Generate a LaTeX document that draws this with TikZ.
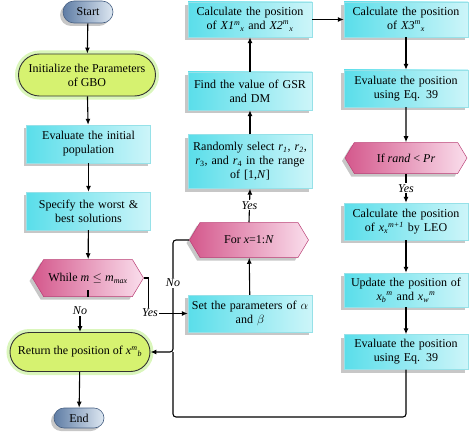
\documentclass[tikz,border=0pt]{standalone}
\usepackage{fontspec}
\usepackage{amsmath}
\setmainfont{Liberation Serif}
\usetikzlibrary{arrows.meta,shapes.symbols,shapes.misc,shadows}
\definecolor{cyL}{RGB}{90,222,234}
\definecolor{cyR}{RGB}{205,245,249}
\definecolor{cyB}{RGB}{150,225,232}
\definecolor{pkL}{RGB}{212,88,140}
\definecolor{pkR}{RGB}{250,222,236}
\definecolor{pkB}{RGB}{185,60,115}
\definecolor{blL}{RGB}{95,125,165}
\definecolor{blR}{RGB}{222,232,242}
\definecolor{blB}{RGB}{70,95,130}
\definecolor{ygF}{RGB}{214,242,112}
\definecolor{glow}{RGB}{150,230,60}
\newcommand{\vi}[1]{\text{\itshape #1}}
\tikzset{
  every node/.style={font=\fontsize{12}{14}\selectfont},
  shd/.style={drop shadow={shadow xshift=-3pt,shadow yshift=-3pt,opacity=0.22,fill=black}},
  box/.style={rectangle, minimum width=124pt, minimum height=37pt, text width=122pt,
    align=center, inner sep=1pt, left color=cyL, right color=cyR, draw=cyB, line width=0.4pt, shd},
  hexa/.style={signal, signal to=east and west, signal pointer angle=118,
    minimum height=35pt, inner sep=1pt, left color=pkL, right color=pkR, draw=pkB, line width=0.5pt, shd},
  term/.style={rounded rectangle, minimum width=52pt, minimum height=22pt, inner sep=1pt,
    left color=blL, right color=blR, draw=blB, line width=0.6pt, shd},
  pill/.style={rounded rectangle, minimum height=42pt, inner sep=2pt, align=center,
    fill=ygF, draw=black!80, line width=0.9pt,
    preaction={draw=glow, line width=7pt, opacity=0.35}},
  lbl/.style={font=\fontsize{12}{14}\selectfont\itshape, fill=white, inner sep=1pt},
  arr/.style={-{Latex[length=6pt,width=5pt]}, line width=1.1pt},
  ln/.style={line width=1.1pt},
}
\begin{document}
\begin{tikzpicture}[x=1pt,y=-1pt]
\useasboundingbox (0,0) rectangle (474,436);
% left column
\node[term] (start) at (88,12) {Start};
\node[pill, minimum width=141pt] (init) at (87,75) {Initialize the Parameters\\of GBO};
\node[box, minimum width=123pt, minimum height=38pt] (eval0) at (88.5,144) {Evaluate the initial\\population};
\node[box, minimum width=123pt, minimum height=38pt] (spec) at (88.5,211) {Specify the worst \&\\best solutions};
\node[hexa, minimum width=111pt, minimum height=37pt] (while) at (88,278) {While $\vi{m}\le \vi{m}_{\vi{max}}$};
\node[pill, minimum width=144pt, minimum height=39pt] (ret) at (80,352) {Return the position of $\vi{x}^{\vi{m}}{}_{\vi{b}}$};
\node[term, minimum height=20pt] (endn) at (79,418) {End};
% middle column
\node[box] (set) at (250,313.5) {Set the parameters of $\alpha$\\and $\beta$};
\node[hexa, minimum width=119pt] (for) at (249,240) {For \textit{x}=1:\textit{N}};
\node[box, minimum height=54pt] (rand) at (250,161.5) {Randomly select $\vi{r}_{\vi{1}}$, $\vi{r}_{\vi{2}}$,\\$\vi{r}_{\text{3}}$, and $\vi{r}_{\text{4}}$ in the range\\of [1,\textit{N}]};
\node[box, minimum height=38pt] (find) at (250,91) {Find the value of GSR\\and DM};
\node[box, minimum height=35pt] (c12) at (250,19.5) {Calculate the position\\of $\vi{X1}^{\vi{m}}{}_{\vi{x}}$ and $\vi{X2}^{\vi{m}}{}_{\vi{x}}$};
% right column
\node[box, minimum width=120pt, minimum height=35pt] (c3) at (406,19.5) {Calculate the position\\of $\vi{X3}^{\vi{m}}{}_{\vi{x}}$};
\node[box, minimum width=120pt] (ev1) at (406,88.5) {Evaluate the position\\using Eq. 39};
\node[hexa, minimum width=122pt, minimum height=31pt] (if) at (406,158) {If \textit{rand} < \textit{Pr}};
\node[box, minimum width=120pt] (leo) at (406,221.5) {Calculate the position\\of $\vi{x}_{\vi{x}}{}^{\vi{m+1}}$ by LEO};
\node[box, minimum width=120pt, minimum height=34pt] (upd) at (406,290) {Update the position of\\$\vi{x}_{\vi{b}}{}^{\vi{m}}$ and $\vi{x}_{\vi{w}}{}^{\vi{m}}$};
\node[box, minimum width=120pt, minimum height=35pt] (ev2) at (406,352) {Evaluate the position\\using Eq. 39};
% connectors left
\draw[arr] (start) -- (init);
\draw[arr] (init) -- (eval0);
\draw[arr] (eval0) -- (spec);
\draw[arr] (spec) -- (while);
\node[lbl] (no1) at (80,311) {No};
\draw[ln] (while.south) -- ++(0,-7);
\draw[arr] (no1.south) -- (ret.north);
\draw[arr] (ret) -- (endn);
\draw[arr] (while.east) -- ++(5,0) |- (set.west);
\node[lbl] (yes1) at (150,313) {Yes};
% for No branch and loop
\draw[arr, rounded corners=3pt] (for.west) -| (173,352) -- (ret.east);
\draw[ln, rounded corners=3pt] (ev2.south) |- (173,417) -- (173,352);
\node[lbl] (no2) at (173,283) {No};
% middle
\draw[arr] (set) -- (for);
\draw[arr] (for.north) -- node[lbl]{Yes} (rand.south);
\draw[arr] (rand) -- (find);
\draw[arr] (find) -- (c12);
\draw[arr] (c12) -- (c3);
% right
\draw[arr] (c3) -- (ev1);
\draw[arr] (ev1) -- (if);
\draw[arr] (if.south) -- node[lbl]{Yes} (leo.north);
\draw[arr] (leo) -- (upd);
\draw[arr] (upd) -- (ev2);
\end{tikzpicture}
\end{document}
